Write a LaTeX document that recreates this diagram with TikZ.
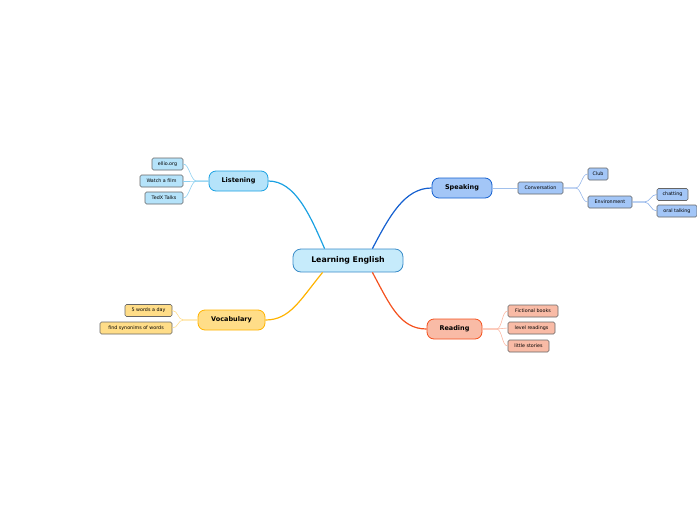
\documentclass[tikz,border=0pt]{standalone}
\usepackage{fontspec}
\setmainfont{DejaVu Sans}
\usetikzlibrary{calc}
\definecolor{lsb}{HTML}{1BA1E2}\definecolor{lsf}{HTML}{B5E3FA}
\definecolor{spb}{HTML}{1560D0}\definecolor{spf}{HTML}{A3C6F7}
\definecolor{vob}{HTML}{FFB300}\definecolor{vof}{HTML}{FFDD88}
\definecolor{reb}{HTML}{F4511E}\definecolor{ref}{HTML}{F9BBA6}
\definecolor{ceb}{HTML}{3A8CC8}\definecolor{cef}{HTML}{C6EBFB}
\tikzset{
 mainn/.style={rounded corners=7pt,draw,line width=0.8pt,minimum height=20pt,font=\fontsize{6.5}{7}\selectfont\bfseries,inner sep=0pt},
 leafn/.style={rounded corners=1.5pt,draw=gray!80!black,line width=0.6pt,minimum height=12pt,font=\fontsize{4.8}{5}\selectfont,inner sep=0pt},
 con/.style={line width=1.2pt},
 lcon/.style={line width=0.6pt},
}
\begin{document}
\begin{tikzpicture}[x=1pt,y=-1pt]
\useasboundingbox (0,0) rectangle (697,520);
\node[mainn,draw=ceb,fill=cef,minimum width=110pt,minimum height=23pt,rounded corners=8pt,font=\fontsize{7.8}{9}\selectfont\bfseries] (c) at (348,260.5) {Learning English};
\node[mainn,draw=lsb,fill=lsf,minimum width=59pt] (L) at (238.5,181) {Listening};
\node[mainn,draw=spb,fill=spf,minimum width=60pt] (S) at (462,188) {Speaking};
\node[mainn,draw=vob,fill=vof,minimum width=67pt] (V) at (231.5,320) {Vocabulary};
\node[mainn,draw=reb,fill=ref,minimum width=55pt] (R) at (454.5,329) {Reading};
% connectors main
\draw[con,lsb] ($(c.north west)+(32,0)$) .. controls (310,215) and (295,181) .. (L.east);
\draw[con,spb] ($(c.north east)+(-31,0)$) .. controls (390,215) and (405,188) .. (S.west);
\draw[con,vob] ($(c.south west)+(30,0)$) .. controls (300,300) and (290,320) .. (V.east);
\draw[con,reb] ($(c.south east)+(-31,0)$) .. controls (390,305) and (400,329) .. (R.west);
% listening leaves
\node[leafn,fill=lsf,minimum width=31pt] (l1) at (167.5,164) {ellio.org};
\node[leafn,fill=lsf,minimum width=43pt] (l2) at (161.5,181) {Watch a film};
\node[leafn,fill=lsf,minimum width=38pt] (l3) at (164,198) {TedX Talks};
\foreach \n in {l1,l2,l3}
 \draw[lcon,lsb!50] (L.west) -- ++(-12,0) .. controls +(-6,0) and ($(\n.east)+(6,0)$) .. (\n.east);
% vocabulary leaves
\node[leafn,fill=vof,minimum width=47pt] (v1) at (148.5,310.5) {5 words a day};
\node[leafn,fill=vof,minimum width=72pt] (v2) at (136,328) {find synonims of words};
\foreach \n in {v1,v2}
 \draw[lcon,vob!45] (V.west) -- ++(-14,0) .. controls +(-6,0) and ($(\n.east)+(6,0)$) .. (\n.east);
% speaking
\node[leafn,fill=spf,minimum width=45pt] (s1) at (540.5,188) {Conversation};
\draw[lcon,spb!40] (S.east) -- (s1.west);
\node[leafn,fill=spf,minimum width=20pt] (s2) at (598,174) {Club};
\node[leafn,fill=spf,minimum width=44pt] (s3) at (610,202) {Environment};
\foreach \n in {s2,s3}
 \draw[lcon,spb!45] (s1.east) -- ++(12,0) .. controls +(6,0) and ($(\n.west)+(-6,0)$) .. (\n.west);
\node[leafn,fill=spf,minimum width=31pt] (s4) at (672.5,194.5) {chatting};
\node[leafn,fill=spf,minimum width=40pt] (s5) at (677,211) {oral talking};
\foreach \n in {s4,s5}
 \draw[lcon,spb!50] (s3.east) -- ++(12,0) .. controls +(6,0) and ($(\n.west)+(-6,0)$) .. (\n.west);
% reading
\node[leafn,fill=ref,minimum width=50pt] (r1) at (533,311) {Fictional books};
\node[leafn,fill=ref,minimum width=47pt] (r2) at (531.5,328) {level readings};
\node[leafn,fill=ref,minimum width=41pt] (r3) at (528.5,346) {little stories};
\foreach \n in {r1,r2,r3}
 \draw[lcon,reb!40] (R.east) -- ++(14,0) .. controls +(6,0) and ($(\n.west)+(-6,0)$) .. (\n.west);
\end{tikzpicture}
\end{document}
